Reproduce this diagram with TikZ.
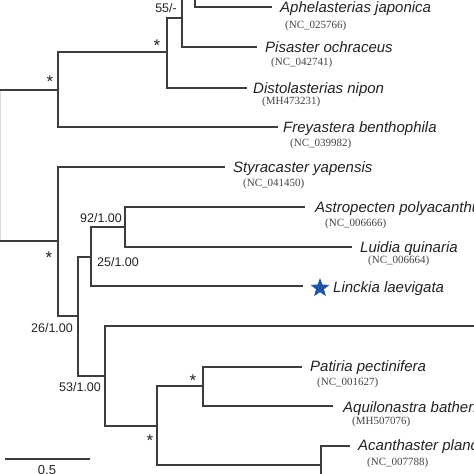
\documentclass[tikz,border=0pt]{standalone}
\usepackage{fontspec}
\setmainfont{Liberation Sans}
\newfontfamily\accfont{Liberation Serif}
\usetikzlibrary{shapes.geometric}
\definecolor{treeline}{HTML}{3C3C3C}
\definecolor{txt}{HTML}{222222}
\definecolor{starblue}{HTML}{2155A6}
\begin{document}
\begin{tikzpicture}[x=1pt,y=-1pt,
  branch/.style={draw=treeline,line width=1.4pt},
  sp/.style={anchor=base west,inner sep=0pt,font=\fontsize{15}{18}\selectfont\itshape,text=txt,yshift=-5pt},
  acc/.style={anchor=base west,inner sep=0pt,font=\accfont\fontsize{11}{13}\selectfont,text=txt!85!white,yshift=-3.7pt},
  supp/.style={anchor=center,inner sep=0pt,font=\fontsize{12.5}{14}\selectfont,text=txt},
  astk/.style={anchor=base,inner sep=0pt,font=\fontsize{17}{17}\selectfont,text=txt,yshift=-9pt}]
\useasboundingbox (0,0) rectangle (474,474);
\clip (0,0) rectangle (474,474);
% ---------- coordinates ----------
\coordinate (root1) at (0,90);
\coordinate (root2) at (0,241);
\coordinate (nA) at (58,90);
\coordinate (nB) at (167,52);
\coordinate (nC) at (182,18);
\coordinate (nD) at (195,-12);
\coordinate (dUp) at (260,-30);
\coordinate (eAph) at (272,7);
\coordinate (ePis) at (257,47);
\coordinate (eDis) at (247,88);
\coordinate (eFrey) at (278,127);
\coordinate (nE) at (58,241);
\coordinate (eSty) at (225,167);
\coordinate (nF) at (78,316);
\coordinate (nG) at (91,257);
\coordinate (nH) at (125,227);
\coordinate (eAst) at (305,207);
\coordinate (eLui) at (352,247);
\coordinate (eLin) at (303,286);
\coordinate (nI) at (105,376);
\coordinate (eTop) at (480,326);
\coordinate (nJ) at (157,426);
\coordinate (nK) at (203,386);
\coordinate (ePat) at (302,367);
\coordinate (eAqu) at (333,406);
\coordinate (nL) at (321,465);
\coordinate (eAca) at (350,446);
\coordinate (eLow) at (360,490);
% ---------- branches ----------
\draw[treeline!18,line width=1.4pt] (root1) -- (root2);
\draw[branch] (root1) -- (nA);
\draw[branch] (nA) |- (nB);
\draw[branch] (nA) |- (eFrey);
\draw[branch] (nB) |- (nC);
\draw[branch] (nB) |- (eDis);
\draw[branch] (nC) |- (nD);
\draw[branch] (nC) |- (ePis);
\draw[branch] (nD) |- (eAph);
\draw[branch] (nD) |- (dUp);
\draw[branch] (root2) -- (nE);
\draw[branch] (nE) |- (eSty);
\draw[branch] (nE) |- (nF);
\draw[branch] (nF) |- (nG);
\draw[branch] (nF) |- (nI);
\draw[branch] (nG) |- (nH);
\draw[branch] (nG) |- (eLin);
\draw[branch] (nH) |- (eAst);
\draw[branch] (nH) |- (eLui);
\draw[branch] (nI) |- (eTop);
\draw[branch] (nI) |- (nJ);
\draw[branch] (nJ) |- (nK);
\draw[branch] (nJ) |- (nL);
\draw[branch] (nK) |- (ePat);
\draw[branch] (nK) |- (eAqu);
\draw[branch] (nL) |- (eAca);
\draw[branch] (nL) |- (eLow);
% ---------- species ----------
\node[sp] (tAph) at (280,7) {Aphelasterias japonica};
\node[acc] (aAph) at (285,25) {(NC\_025766)};
\node[sp] (tPis) at (265,47) {Pisaster ochraceus};
\node[acc] (aPis) at (271,62) {(NC\_042741)};
\node[sp] (tDis) at (253,88) {Distolasterias nipon};
\node[acc] (aDis) at (262,101) {(MH473231)};
\node[sp] (tFrey) at (283,127) {Freyastera benthophila};
\node[acc] (aFrey) at (290,143) {(NC\_039982)};
\node[sp] (tSty) at (233,167) {Styracaster yapensis};
\node[acc] (aSty) at (243,183) {(NC\_041450)};
\node[sp] (tAst) at (315,207) {Astropecten polyacanthus};
\node[acc] (aAst) at (325,223) {(NC\_006666)};
\node[sp] (tLui) at (360,247) {Luidia quinaria};
\node[acc] (aLui) at (368,260) {(NC\_006664)};
\node[star,star points=5,star point ratio=2.4,fill=starblue,inner sep=0pt,minimum size=20pt] (star) at (320,288) {};
\node[sp] (tLin) at (333,287) {Linckia laevigata};
\node[sp] (tPat) at (310,366) {Patiria pectinifera};
\node[acc] (aPat) at (317,382) {(NC\_001627)};
\node[sp] (tAqu) at (343,407) {Aquilonastra batheri};
\node[acc] (aAqu) at (352,421) {(MH507076)};
\node[sp] (tAca) at (358,445) {Acanthaster planci};
\node[acc] (aAca) at (367,462) {(NC\_007788)};
% ---------- support values ----------
\node[supp,anchor=east] (s55) at (177,8) {55/-};
\node[astk] (sA) at (50,78) {*};
\node[astk] (sB) at (157,42) {*};
\node[astk] (sE) at (49,254) {*};
\node[supp] (s92) at (101,218) {92/1.00};
\node[supp] (s25) at (118,262) {25/1.00};
\node[supp] (s26) at (52,328) {26/1.00};
\node[supp] (s53) at (80,387) {53/1.00};
\node[astk] (sK) at (193,377) {*};
\node[astk] (sJ) at (150,437) {*};
\node[astk] (sL) at (312,481) {*};
% ---------- scale bar ----------
\coordinate (sbL) at (5,459);
\coordinate (sbR) at (90,459);
\draw[branch] (sbL) -- (sbR);
\node[anchor=north,inner sep=0pt,font=\fontsize{13}{14}\selectfont,text=txt] (sbLab) at (47,465) {0.5};
\end{tikzpicture}
\end{document}
